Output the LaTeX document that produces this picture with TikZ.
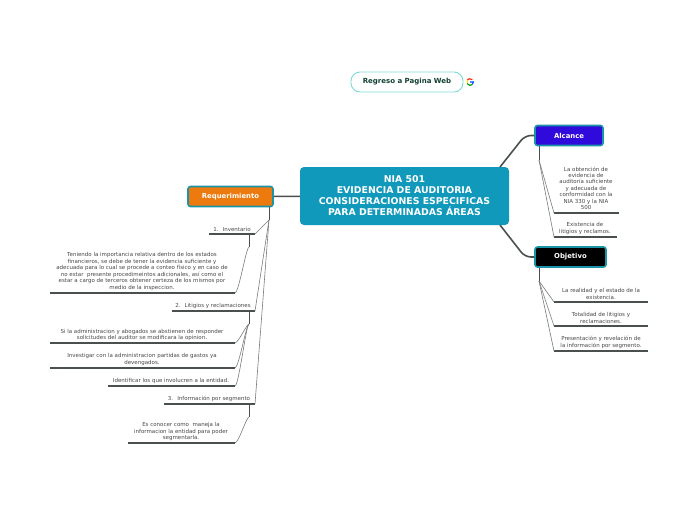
\documentclass[tikz,border=0pt]{standalone}
\usepackage{fontspec}
\setmainfont{DejaVu Sans}
\definecolor{teal1}{HTML}{1199BB}
\definecolor{teal2}{HTML}{1A94A6}
\definecolor{aqua1}{HTML}{7FD8D8}
\definecolor{edge1}{HTML}{4A4F4F}
\definecolor{orange1}{HTML}{EC7A0E}
\definecolor{blue1}{HTML}{2F0ADB}
\definecolor{webtext}{HTML}{123F33}
\begin{document}
\begin{tikzpicture}[x=1pt, y=-1pt,
    main/.style = {draw=teal2, line width=1.6pt, rounded corners=2.5pt, text=white, font=\bfseries\fontsize{6.85}{8}\selectfont, inner sep=0pt},
    leaf/.style = {align=center, text=black!72, font=\fontsize{5.5}{6.45}\selectfont, inner sep=0pt},
    under/.style = {draw=edge1, line width=1.1pt},
    thick edge/.style = {draw=edge1, line width=1.6pt, rounded corners=6pt},
    thin edge/.style = {draw=edge1!75, line width=0.6pt},
    drop/.style = {draw=edge1, line width=0.8pt}]
    \useasboundingbox (0,0) rectangle (697,520);

    % top button
    \node[draw=aqua1, line width=0.9pt, rounded corners=9pt, minimum width=112pt, minimum height=20pt, inner sep=0pt, text=webtext, font=\bfseries\fontsize{7}{8}\selectfont] (web) at (407,82) {Regreso a Pagina Web};
    \draw[line width=1.1pt, red!75!orange] (472.4,79.6) arc (45:150:3.4pt);
    \draw[line width=1.1pt, yellow!80!orange] (467.05,80.3) arc (150:210:3.4pt);
    \draw[line width=1.1pt, green!60!black] (467.05,83.7) arc (210:315:3.4pt);
    \draw[line width=1.1pt, blue!70!cyan] (472.4,84.4) arc (315:360:3.4pt) -- (470,82);

    % main boxes
    \node[fill=teal1, rounded corners=4pt, minimum width=209pt, minimum height=58pt, align=center, inner sep=0pt, text=white, font=\bfseries\fontsize{9.35}{11}\selectfont] (nia) at (404.5,196) {NIA 501\\EVIDENCIA DE AUDITORIA\\CONSIDERACIONES ESPECIFICAS\\PARA DETERMINADAS ÁREAS};
    \node[main, fill=orange1, minimum width=85pt, minimum height=20pt] (req) at (230.5,196.5) {Requerimiento};
    \node[main, fill=blue1, minimum width=68pt, minimum height=20pt] (alc) at (569,135.5) {Alcance};
    \node[main, fill=black, minimum width=71pt, minimum height=20pt] (obj) at (570.5,257) {Objetivo};

    \draw[thick edge] (req) -- (nia);
    \coordinate (n1) at (500,167);
    \coordinate (n2) at (500,225);
    \coordinate (a0) at (525,135.5);
    \coordinate (o0) at (525,257);
    \draw[thick edge] (n1) -- (a0) -- (alc.west);
    \draw[thick edge] (n2) -- (o0) -- (obj.west);

    % requerimiento side
    \coordinate (r0) at (269,207);
    \coordinate (r1) at (269,220);
    \node[leaf, anchor=south] (t1) at (232,232) {1.~ Inventario};
    \coordinate (t1a) at (209,234);
    \coordinate (t1b) at (255,234);
    \coordinate (t1c) at (249,234);
    \coordinate (t1d) at (249,247);
    \node[leaf, anchor=south] (t2) at (142,290.5) {Teniendo la importancia relativa dentro de los estados\\financieros, se debe de tener la evidencia suficiente y\\adecuada para lo cual se procede a conteo físico y en caso de\\no estar~ presente procedimeintos adicionales, así como el\\estar a cargo de terceros obtener certeza de los mismos por\\medio de la inspeccion.};
    \coordinate (t2a) at (50,293);
    \coordinate (t2b) at (235,293);
    \node[leaf, anchor=south] (t3) at (213,308.5) {2.~ Litigios y reclamaciones};
    \coordinate (t3a) at (172,311);
    \coordinate (t3b) at (255,311);
    \coordinate (t3c) at (249,311);
    \coordinate (t3d) at (249,324);
    \node[leaf, anchor=south] (t4) at (142,341) {Si la administracion y abogados se abstienen de responder\\solicitudes del auditor se modificara la opinion.};
    \coordinate (t4a) at (50,343);
    \coordinate (t4b) at (235,343);
    \node[leaf, anchor=south] (t5) at (142,365.5) {Investigar con la administracion partidas de gastos ya\\devengados.};
    \coordinate (t5a) at (50,368);
    \coordinate (t5b) at (235,368);
    \node[leaf, anchor=south] (t6) at (171,383.5) {Identificar los que involucren a la entidad.};
    \coordinate (t6a) at (108,386);
    \coordinate (t6b) at (235,386);
    \node[leaf, anchor=south] (t7) at (209,401.5) {3.~ Información por segmento};
    \coordinate (t7a) at (164,404);
    \coordinate (t7b) at (255,404);
    \coordinate (t7c) at (249,404);
    \coordinate (t7d) at (249,417);
    \node[leaf, anchor=south] (t8) at (181,441) {Es conocer como~ maneja la\\informacion la entidad para poder\\segmentarla.};
    \coordinate (t8a) at (128,443);
    \coordinate (t8b) at (235,443);

    \foreach \a/\b in {t1a/t1b, t2a/t2b, t3a/t3b, t4a/t4b, t5a/t5b, t6a/t6b, t7a/t7b, t8a/t8b}
        \draw[under] (\a) -- (\b);
    \draw[drop] (r0) -- (r1);
    \draw[thin edge] (r1) -- (t1b);
    \draw[thin edge] (r1) -- (t3b);
    \draw[thin edge] (r1) -- (t7b);
    \foreach \c/\d/\e in {t1c/t1d/t2b, t3c/t3d/t4b, t3c/t3d/t5b, t3c/t3d/t6b, t7c/t7d/t8b} {
        \draw[drop] (\c) -- (\d);
        \draw[thin edge] (\d) .. controls +(-3,1) and +(4,-1) .. (\e);
    }

    % alcance side
    \coordinate (a1) at (539,146);
    \coordinate (a2) at (539,160);
    \node[leaf, anchor=south] (a3) at (586,210) {La obtención de\\evidencia de\\auditoría suficiente\\y adecuada de\\conformidad con la\\NIA 330 y la NIA\\500};
    \coordinate (a3a) at (554,213);
    \coordinate (a3b) at (619,213);
    \node[leaf, anchor=south] (a4) at (585,234.5) {Existencia de\\litigios y reclamos.};
    \coordinate (a4a) at (554,237);
    \coordinate (a4b) at (617,237);

    % objetivo side
    \coordinate (o1) at (539,268);
    \coordinate (o2) at (539,281);
    \node[leaf, anchor=south] (o3) at (601,299.5) {La realidad y el estado de la\\existencia.};
    \coordinate (o3a) at (554,302);
    \coordinate (o3b) at (648,302);
    \node[leaf, anchor=south] (o4) at (601,323.5) {Totalidad de litigios y\\reclamaciones.};
    \coordinate (o4a) at (554,326);
    \coordinate (o4b) at (648,326);
    \node[leaf, anchor=south] (o5) at (601,348.5) {Presentación y revelación de\\la información por segmento.};
    \coordinate (o5a) at (554,351);
    \coordinate (o5b) at (648,351);

    \foreach \a/\b in {a3a/a3b, a4a/a4b, o3a/o3b, o4a/o4b, o5a/o5b}
        \draw[under] (\a) -- (\b);
    \draw[drop] (a1) -- (a2);
    \draw[drop] (o1) -- (o2);
    \draw[thin edge] (a2) -- (a3a);
    \draw[thin edge] (a2) -- (a4a);
    \draw[thin edge] (o2) -- (o3a);
    \draw[thin edge] (o2) -- (o4a);
    \draw[thin edge] (o2) -- (o5a);
\end{tikzpicture}
\end{document}
